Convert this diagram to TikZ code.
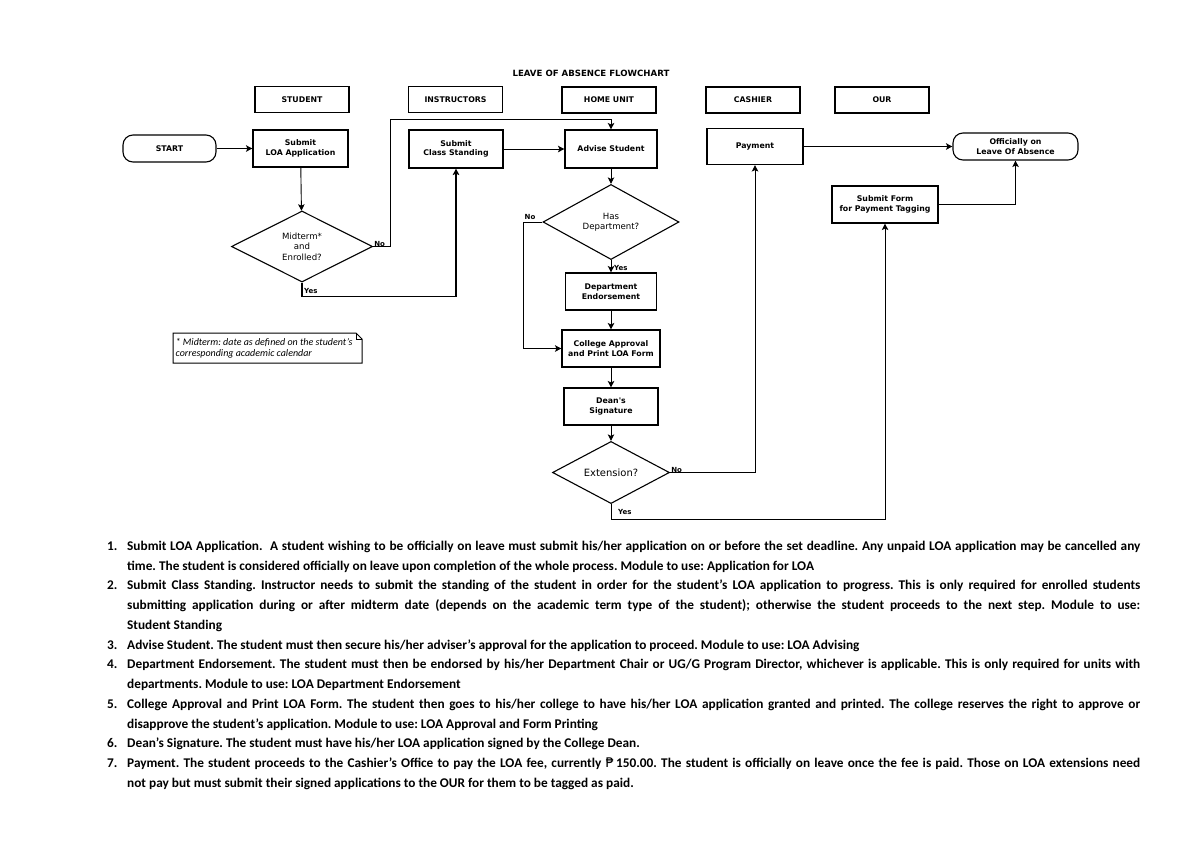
\documentclass[tikz,border=0pt]{standalone}
\usepackage{fontspec}
\setmainfont{Carlito}
\newfontfamily\fcfont{DejaVu Sans}
\newfontfamily\pesofont{DejaVu Sans}
\usetikzlibrary{shapes.geometric,arrows.meta,calc}
\frenchspacing
\begin{document}
\begin{tikzpicture}[x=1pt,y=-1pt,
  box/.style={draw, line width=1.1pt, align=center, inner sep=0pt,
    font=\fcfont\bfseries\fontsize{7.8}{9.6}\selectfont},
  lane/.style={box, minimum width=94pt, minimum height=26pt},
  proc/.style={box, minimum width=95pt, minimum height=37pt},
  term/.style={box, rounded corners=10pt, minimum height=27pt},
  dec/.style={diamond, draw, line width=1.1pt, inner sep=0pt, align=center,
    font=\fcfont\fontsize{8.6}{10.4}\selectfont},
  conn/.style={line width=0.9pt, -{Stealth[length=6.5pt,width=6.5pt,inset=1.5pt]}},
  thickconn/.style={conn, line width=1.6pt},
  lbl/.style={font=\fcfont\bfseries\fontsize{7}{8}\selectfont, inner sep=1pt},
  listtxt/.style={font=\frenchspacing\bfseries\fontsize{13.3}{16}\selectfont, inner sep=0pt, anchor=mid west},
  notetxt/.style={font=\itshape\fontsize{10}{11}\selectfont, align=left, inner sep=0pt}
]
\useasboundingbox (0,0) rectangle (1200,849);
\fill[white] (0,0) rectangle (1200,849);

% title
\node[font=\fcfont\bfseries\fontsize{8.6}{10}\selectfont] (title) at (591,73) {LEAVE OF ABSENCE FLOWCHART};

% lanes
\node[lane] (lstudent) at (302,99.5) {STUDENT};
\node[lane] (linstr) at (455.5,99.5) {INSTRUCTORS};
\node[lane] (lhome) at (609,100) {HOME UNIT};
\node[lane] (lcash) at (753,100) {CASHIER};
\node[lane] (lour) at (882,100) {OUR};

% nodes
\node[term, minimum width=93pt] (start) at (169.5,148.5) {START};
\node[proc] (sub) at (300.5,148.5) {Submit\\LOA Application};
\node[dec, minimum width=141pt, minimum height=71pt] (mid) at (302,246.5) {Midterm*\\and\\Enrolled?};
\node[proc, minimum width=94pt, minimum height=38pt] (scs) at (456,149) {Submit\\Class Standing};
\node[proc, minimum width=92pt, minimum height=38pt] (adv) at (611,149) {Advise Student};
\node[dec, minimum width=136pt, minimum height=68pt] (hasd) at (611,222) {Has\\Department?};
\node[proc, minimum width=91pt] (dend) at (611,291.5) {Department\\Endorsement};
\node[proc, minimum width=98pt] (col) at (611,348.5) {College Approval\\and Print LOA Form};
\node[proc, minimum width=94pt] (dean) at (611,406.5) {Dean's\\Signature};
\node[dec, minimum width=117pt, minimum height=49pt, font=\fcfont\fontsize{10}{12}\selectfont] (ext) at (611,472.5) {Extension?};
\node[proc, minimum width=96pt, minimum height=36pt] (pay) at (755,146.5) {Payment};
\node[term, minimum width=125pt] (off) at (1015.5,146.5) {Officially on\\Leave Of Absence};
\node[proc, minimum width=106pt] (sform) at (885,204.5) {Submit Form\\for Payment Tagging};

% note
\draw[line width=1pt] (173,333) -- (356,333) -- (362,339) -- (362,363) -- (173,363) -- cycle;
\draw[line width=0.7pt] (356,333) -- (356,339) -- (362,339);
\node[notetxt, anchor=west] (note) at (175.5,348) {* Midterm: date as defined on the student’s\\corresponding academic calendar};

% connectors
\coordinate (nocorner) at (390,119);
\draw[conn] (start) -- (sub);
\draw[conn] (sub) -- (mid);
\draw[conn] (mid.east) -| (nocorner) -| (adv.north);
\draw[thickconn] (mid.south) -- ++(0,14) -| (scs.south);
\draw[conn] (scs) -- (adv);
\draw[conn] (adv) -- (hasd);
\draw[conn] (hasd.west) -- ++(-19,0) |- (col.west);
\draw[conn] (hasd) -- (dend);
\draw[conn] (dend) -- (col);
\draw[conn] (col) -- (dean);
\draw[conn] (dean) -- (ext);
\draw[conn] (ext.east) -| (pay.south);
\draw[conn] (ext.south) -- ++(0,15) -| (sform.south);
\draw[conn] (pay) -- (off);
\draw[conn] (sform.east) -| (off.south);

% labels
\node[lbl, anchor=south west] (lno1) at ($(mid.east)+(0,1)$) {No};
\node[lbl, anchor=west] (lyes1) at ($(mid.south)+(1,8)$) {Yes};
\node[lbl, anchor=south west] (lno2) at ($(hasd.west)+(-19,-1)$) {No};
\node[lbl, anchor=west] (lyes2) at ($(hasd.south)+(2,8)$) {Yes};
\node[lbl, anchor=south west] (lno3) at ($(ext.east)+(0,1)$) {No};
\node[lbl, anchor=west] (lyes3) at ($(ext.south)+(6,8)$) {Yes};

% list
\def\lw{1013pt}
\node[listtxt] (n1) at (107,548) {1.};
\node[listtxt] (t1a) at (127,548) {\makebox[\lw][s]{Submit LOA Application.\ \ A student wishing to be officially on leave must submit his/her application on or before the set deadline. Any unpaid LOA application may be cancelled any}};
\node[listtxt] (t1b) at (127,567.75) {time. The student is considered officially on leave upon completion of the whole process. Module to use: Application for LOA};
\node[listtxt] (n2) at (107,587.5) {2.};
\node[listtxt] (t2a) at (127,587.5) {\makebox[\lw][s]{Submit Class Standing. Instructor needs to submit the standing of the student in order for the student’s LOA application to progress. This is only required for enrolled students}};
\node[listtxt] (t2b) at (127,607.25) {\makebox[\lw][s]{submitting application during or after midterm date (depends on the academic term type of the student); otherwise the student proceeds to the next step. Module to use:}};
\node[listtxt] (t2c) at (127,627) {Student Standing};
\node[listtxt] (n3) at (107,646.75) {3.};
\node[listtxt] (t3) at (127,646.75) {Advise Student. The student must then secure his/her adviser’s approval for the application to proceed. Module to use: LOA Advising};
\node[listtxt] (n4) at (107,666.5) {4.};
\node[listtxt] (t4a) at (127,666.5) {\makebox[\lw][s]{Department Endorsement. The student must then be endorsed by his/her Department Chair or UG/G Program Director, whichever is applicable. This is only required for units with}};
\node[listtxt] (t4b) at (127,686.25) {departments. Module to use: LOA Department Endorsement};
\node[listtxt] (n5) at (107,706) {5.};
\node[listtxt] (t5a) at (127,706) {\makebox[\lw][s]{College Approval and Print LOA Form. The student then goes to his/her college to have his/her LOA application granted and printed. The college reserves the right to approve or}};
\node[listtxt] (t5b) at (127,725.75) {disapprove the student’s application. Module to use: LOA Approval and Form Printing};
\node[listtxt] (n6) at (107,745.5) {6.};
\node[listtxt] (t6) at (127,745.5) {Dean’s Signature. The student must have his/her LOA application signed by the College Dean.};
\node[listtxt] (n7) at (107,765.25) {7.};
\node[listtxt] (t7a) at (127,765.25) {\makebox[\lw][s]{Payment. The student proceeds to the Cashier’s Office to pay the LOA fee, currently {\pesofont\mdseries ₱}\,150.00. The student is officially on leave once the fee is paid. Those on LOA extensions need}};
\node[listtxt] (t7b) at (127,785) {not pay but must submit their signed applications to the OUR for them to be tagged as paid.};
\end{tikzpicture}
\end{document}
